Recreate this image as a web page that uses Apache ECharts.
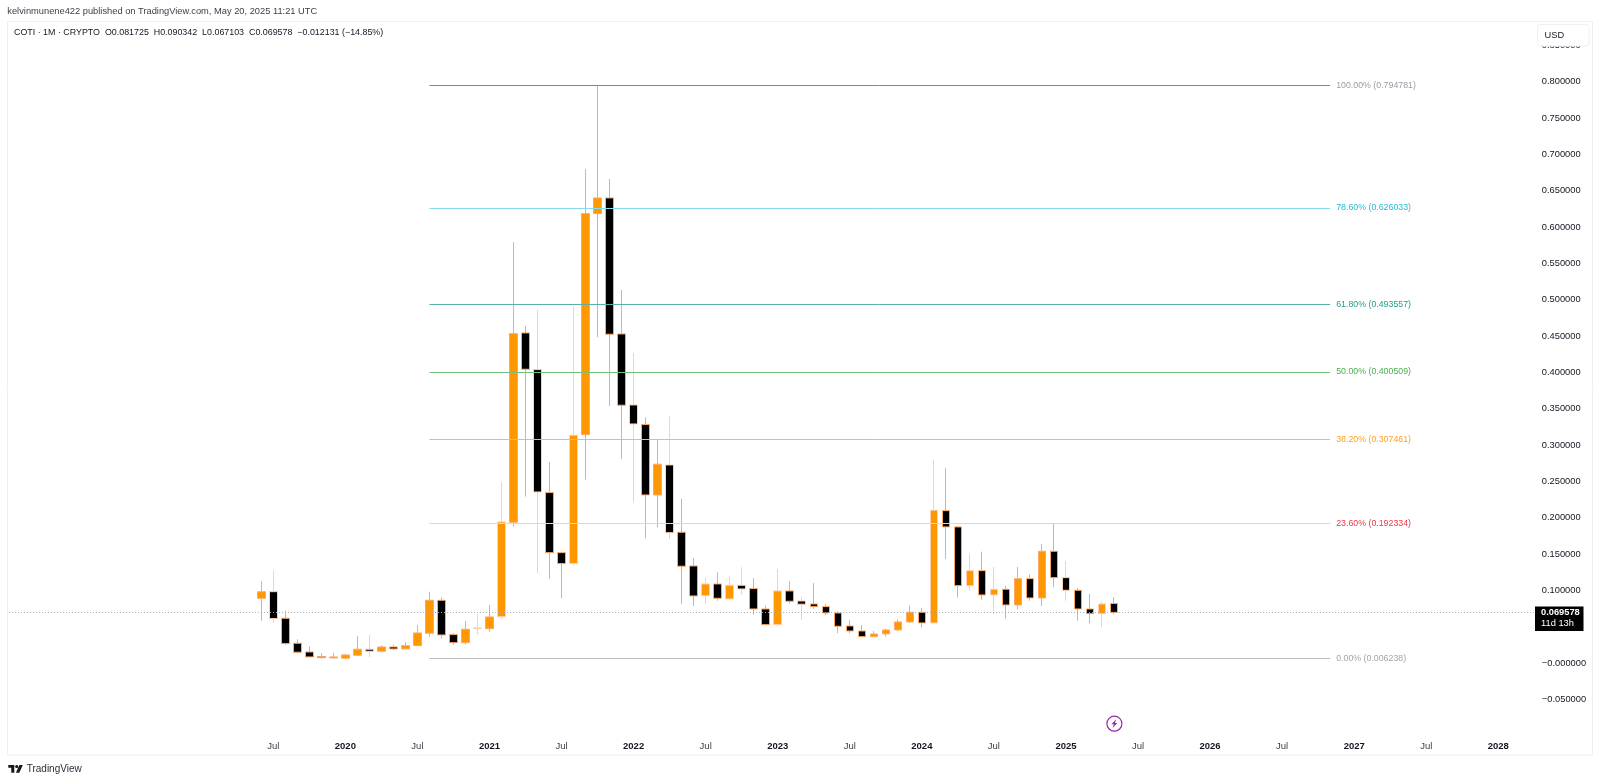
<!DOCTYPE html>
<html>
<head>
<meta charset="utf-8">
<style>html,body{margin:0;padding:0;background:#fff}#c{width:1600px;height:783px}</style>
<script src="https://cdn.jsdelivr.net/npm/echarts@6/dist/echarts.min.js"></script>
</head>
<body>
<div id="c"></div>
<script>
// ---------- data (monthly candles, Jun 2019 .. May 2025) ----------
const firstCandleMonth = '2019-06';
const opens = [.0890,.0981,.0615,.0271,.0151,.0087,.0069,.0065,.0106,.0189,.0161,.0220,.0193,.0238,.0409,.0863,.0390,.0279,.0472,.0472,
  .0637,.1936,.4542,.4037,.2344,.1518,.1367,.3142,.6184,.6400,.4528,.3551,.3280,.2312,.2725,.1799,.1335,.0926,.1087,.0881,
  .1069,.1023,.0743,.0527,.0991,.0853,.0812,.0775,.0688,.0509,.0440,.0362,.0399,.0454,.0564,.0698,.0551,.2096,.1872,.1064,
  .1270,.0936,.1014,.0798,.1160,.0895,.1537,.1174,.1000,.0743,.0678,.081725];
const closes = [.0980,.0610,.0266,.0147,.0083,.0073,.0083,.0110,.0189,.0161,.0220,.0193,.0238,.0413,.0863,.0385,.0279,.0464,.0482,.0633,
  .1940,.4532,.4042,.2353,.1518,.1367,.3134,.6184,.6400,.4524,.3547,.3289,.2312,.2735,.1793,.1331,.0922,.1087,.0890,.1069,
  .1018,.0743,.0527,.0991,.0849,.0808,.0775,.0688,.0505,.0440,.0362,.0399,.0454,.0564,.0698,.0551,.2102,.1872,.1064,.1270,
  .0936,.1014,.0798,.1160,.0895,.1537,.1174,.1000,.0743,.0678,.0812,.069578];
const lows = [.0582,.0555,.0248,.0128,.0083,.0063,.0063,.0065,.0096,.0083,.0155,.0175,.0189,.0234,.0362,.0334,.0252,.0252,.0390,.0427,
  .0610,.1876,.2289,.1234,.1160,.0890,.1345,.2523,.4483,.3537,.2808,.2212,.1716,.1867,.1707,.0812,.0784,.0808,.0857,.0867,
  .0940,.0665,.0527,.0500,.0816,.0592,.0747,.0656,.0409,.0409,.0362,.0362,.0362,.0445,.0551,.0491,.0551,.1431,.0899,.0995,
  .0871,.0670,.0610,.0734,.0857,.0784,.1042,.0857,.0582,.0546,.0491,.067103];
const highs = [.1124,.1276,.0720,.0326,.0230,.0133,.0138,.0124,.0372,.0385,.0244,.0252,.0285,.0523,.0981,.0904,.0413,.0578,.0674,.0798,
  .2487,.5790,.4638,.4858,.2766,.1532,.4904,.6799,.794781,.6661,.5133,.4266,.3381,.3069,.3395,.2261,.1445,.1166,.1248,.1184,
  .1317,.1166,.0789,.1294,.1124,.0904,.1101,.0808,.0711,.0592,.0523,.0440,.0468,.0601,.0789,.0753,.2794,.2684,.1885,.1500,
  .1532,.1321,.1060,.1321,.1221,.1638,.1913,.1404,.1032,.0950,.0849,.090342];
// candles whose wick looks washed out in the reference
const paleWickMonths = ['2019-07','2020-03','2020-12','2021-02','2021-05','2021-08','2022-01','2022-04','2022-07','2022-09','2022-10','2023-01','2023-03','2024-02','2024-05','2024-07','2025-01','2025-04'];

const fibPercents = ['100.00%','78.60%','61.80%','50.00%','38.20%','23.60%','0.00%'];
const fibLevels = [0.794781,0.626033,0.493557,0.400509,0.307461,0.192334,0.006238];
const fibLineColors = ['#85858d','#8adbe8','#5cb3a3','#75c07a','#ffb366','#f9c9cd','#bcbcc0'];
const fibTextColors = ['#9a9ca5','#26bcd4','#22a08a','#4caf50','#ff9f1a','#f23645','#a3a5ad'];
const fibStartMonth = '2020-08';
const fibEndMonth = '2026-11';

const xTickLabels = {'2019-07':'Jul','2020-01':'2020','2020-07':'Jul','2021-01':'2021','2021-07':'Jul','2022-01':'2022','2022-07':'Jul','2023-01':'2023','2023-07':'Jul','2024-01':'2024','2024-07':'Jul','2025-01':'2025','2025-07':'Jul','2026-01':'2026','2026-07':'Jul','2027-01':'2027','2027-07':'Jul','2028-01':'2028'};
const priceTicksMin = -0.05, priceTicksMax = 0.85;
const lastPrice = 0.069578;
const headerText = 'kelvinmunene422 published on TradingView.com, May 20, 2025 11:21 UTC';
const legendText = 'COTI · 1M · CRYPTO  O0.081725  H0.090342  L0.067103  C0.069578  −0.012131 (−14.85%)';

// ---------- categories ----------
const categories = [];
for (let i = 0; i < 128; i++) {
  const m = 2017 * 12 + 8 + i;
  categories.push(Math.floor(m / 12) + '-' + String(m % 12 + 1).padStart(2, '0'));
}
const firstIdx = categories.indexOf(firstCandleMonth);
const FONT = '"Liberation Sans"';

const candleData = categories.map((c, i) => {
  const k = i - firstIdx;
  if (k < 0 || k >= opens.length) return ['-', '-', '-', '-'];
  const pale = paleWickMonths.includes(c);
  return {
    value: [opens[k], closes[k], lows[k], highs[k]],
    itemStyle: {
      borderColor: pale ? '#ffcfb0' : '#ffa864',
      borderColor0: pale ? '#bdbdbd' : '#5c5c5c'
    }
  };
});

const fibLines = fibLevels.map((lv, i) => ([
  {
    coord: [fibStartMonth, lv],
    lineStyle: { color: fibLineColors[i], width: 1, type: 'solid' },
    label: {
      show: true, position: 'end', distance: 6, color: fibTextColors[i], fontSize: 8.8, fontFamily: FONT,
      formatter: fibPercents[i] + ' (' + lv.toFixed(6) + ')'
    }
  },
  { coord: [fibEndMonth, lv] }
]));

const priceLine = [[
  { coord: [categories[0], lastPrice], lineStyle: { color: '#a9a9a9', width: 1, type: [1, 2] }, label: { show: false } },
  { coord: [categories[categories.length - 1], lastPrice] }
]];

const chart = echarts.init(document.getElementById('c'), null, { renderer: 'canvas' });
chart.setOption({
  animation: false,
  backgroundColor: '#ffffff',
  grid: { left: 3.08, width: 1537.28, top: 9.0, height: 726.6 },
  xAxis: {
    type: 'category',
    data: categories,
    axisLine: { show: false },
    axisTick: { show: false },
    splitLine: { show: false },
    axisLabel: {
      margin: 6,
      interval: (i, v) => v in xTickLabels,
      formatter: v => {
        const t = xTickLabels[v] || '';
        return t === 'Jul' ? '{m|Jul}' : '{y|' + t + '}';
      },
      rich: {
        m: { fontSize: 9.5, fontFamily: FONT, color: '#3a3e4a' },
        y: { fontSize: 9.5, fontFamily: FONT, color: '#131722', fontWeight: 'bold' }
      }
    }
  },
  yAxis: {
    type: 'value',
    position: 'right',
    min: -0.1,
    max: 0.9,
    interval: 0.05,
    axisLine: { show: false },
    axisTick: { show: false },
    splitLine: { show: false },
    axisLabel: {
      margin: 1.5,
      fontSize: 9.3,
      fontFamily: FONT,
      color: '#131722',
      formatter: v => {
        if (v < priceTicksMin - 1e-6 || v > priceTicksMax + 1e-6) return '';
        return (v < 0.001 ? '−' : '') + Math.abs(v).toFixed(6);
      }
    }
  },
  series: [{
    type: 'candlestick',
    name: 'COTI',
    data: candleData,
    barWidth: 8,
    itemStyle: { color: '#ff9800', color0: '#000000', borderColor: '#ffa864', borderColor0: '#5c5c5c', borderWidth: 1 },
    markLine: { silent: true, symbol: 'none', animation: false, data: fibLines.concat(priceLine) }
  }]
});

const tagY = chart.convertToPixel({ yAxisIndex: 0 }, lastPrice);
const txt = (x, y, text, font, fill, z) => ({ type: 'text', silent: true, z: z || 5, x, y, style: { text, font, fill, textVerticalAlign: 'middle', verticalAlign: 'middle', align: 'left' } });
chart.setOption({
  graphic: {
    elements: [
      { type: 'rect', silent: true, z: 0, shape: { x: 7.5, y: 21.5, width: 1585, height: 733.5 }, style: { fill: 'none', stroke: '#eeeff1', lineWidth: 1 } },
      txt(7.3, 11.7, headerText, '9.3px ' + FONT, '#3a3e4a'),
      txt(14, 32.5, legendText, '8.9px ' + FONT, '#131722'),
      { type: 'rect', silent: true, z: 20, shape: { x: 1537.5, y: 24.5, width: 51.5, height: 21.5, r: 3 }, style: { fill: '#fff', stroke: '#eeeff1', lineWidth: 1 } },
      txt(1544.5, 35, 'USD', '9.3px ' + FONT, '#131722', 21),
      { type: 'rect', silent: true, z: 20, shape: { x: 1535, y: tagY - 6, width: 48.5, height: 24.5 }, style: { fill: '#000' } },
      txt(1541, tagY + 0.5, '0.069578', 'bold 9.3px ' + FONT, '#fff', 21),
      txt(1541, tagY + 11.5, '11d 13h', '9.3px ' + FONT, '#fff', 21),
      // TradingView mark
      { type: 'polygon', silent: true, z: 5, shape: { points: [[8.3,765],[14.3,765],[14.3,772.7],[11.3,772.7],[11.3,767.8],[8.3,767.8]] }, style: { fill: '#131722' } },
      { type: 'polygon', silent: true, z: 5, shape: { points: [[19.4,765],[22.8,765],[19.3,772.7],[15.9,772.7]] }, style: { fill: '#131722' } },
      { type: 'circle', silent: true, z: 5, shape: { cx: 16.7, cy: 766.5, r: 1.6 }, style: { fill: '#131722' } },
      txt(26.7, 769.3, 'TradingView', '10px ' + FONT, '#2a2e39'),
      // event marker
      { type: 'circle', silent: true, z: 5, shape: { cx: 1114.4, cy: 723.7, r: 7.5 }, style: { fill: '#fff', stroke: '#9c27b0', lineWidth: 1.2 } },
      { type: 'polygon', silent: true, z: 6, shape: { points: [[1116.2,719.3],[1111.4,724.2],[1113.9,724.2],[1112.6,728],[1117.4,723],[1114.9,723]] }, style: { fill: '#9c27b0' } }
    ]
  }
});
</script>
</body>
</html>
